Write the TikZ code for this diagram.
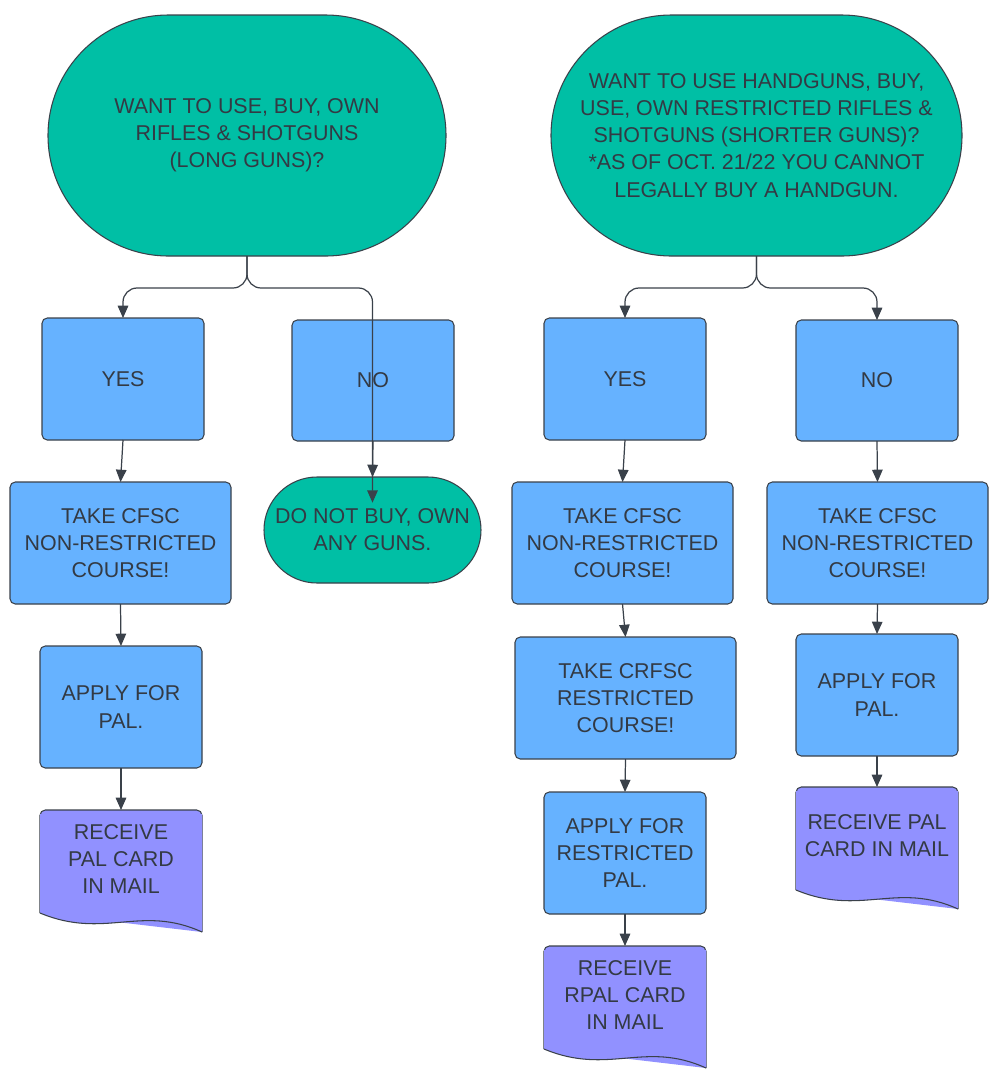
\documentclass[tikz,border=0pt]{standalone}
\usepackage{fontspec}
\setmainfont{Liberation Sans}
\usetikzlibrary{arrows.meta}
\definecolor{teal1}{HTML}{00BFA5}
\definecolor{blue1}{HTML}{66B2FF}
\definecolor{purp1}{HTML}{9191FF}
\definecolor{edge1}{HTML}{3A414A}
\definecolor{txt1}{HTML}{333A44}
\begin{document}
\begin{tikzpicture}[x=0.02cm,y=-0.02cm,
  txt/.style={text=txt1,font=\fontsize{12.2}{15.4}\selectfont,align=center},
  box/.style={draw=edge1,line width=0.6pt,fill=blue1,rounded corners=3pt},
  term/.style={draw=edge1,line width=0.6pt,fill=teal1},
  arr/.style={draw=edge1,line width=0.7pt,-{Triangle[length=7pt,width=6pt]},rounded corners=8pt}]
\useasboundingbox (0,0) rectangle (1000,1086);
% macros
\newcommand{\bx}[6]{\draw[box] (#1,#2) rectangle (#3,#4);
  \node[txt] (#5) at ({(#1+#3)/2},{(#2+#4)/2}) {#6};
  \coordinate (#5t) at ({(#1+#3)/2},#2); \coordinate (#5b) at ({(#1+#3)/2},#4);}
\newcommand{\term}[6]{\pgfmathsetmacro{\rr}{(#4-#2)/2}
  \draw[term,rounded corners=\rr*0.02cm] (#1,#2) rectangle (#3,#4);
  \node[txt] (#5) at ({(#1+#3)/2},{(#2+#4)/2}) {#6};
  \coordinate (#5t) at ({(#1+#3)/2},#2); \coordinate (#5b) at ({(#1+#3)/2},#4);}
\newcommand{\doc}[6]{\draw[draw=edge1,line width=0.6pt,fill=purp1,rounded corners=3pt]
  (#1,{#4-19}) -- (#1,#2) -- (#3,#2) -- (#3,#4);
  \fill[purp1] (#1,{#4-19}) -- (#1,{#2+4}) -- (#3,{#2+4}) -- (#3,#4)
  .. controls ({#1+0.62*(#3-#1)},{#4-28}) and ({#1+0.4*(#3-#1)},{#4+8}) .. (#1,{#4-19});
  \draw[edge1,line width=0.6pt] (#3,#4)
  .. controls ({#1+0.62*(#3-#1)},{#4-28}) and ({#1+0.4*(#3-#1)},{#4+8}) .. (#1,{#4-19});
  \node[txt] (#5) at ({(#1+#3)/2},{#2+(#4-#2)*0.4}) {#6};
  \coordinate (#5t) at ({(#1+#3)/2},#2);}
% left column
\term{48}{15}{446}{256}{lq}{WANT TO USE, BUY, OWN\\RIFLES \& SHOTGUNS\\(LONG GUNS)?}
\bx{42}{318}{204}{440}{ly}{YES}
\bx{292}{320}{454}{441}{ln}{NO}
\bx{10}{482}{231}{604}{lt}{TAKE CFSC\\NON-RESTRICTED\\COURSE!}
\term{264}{477}{481}{583}{lnt}{DO NOT BUY, OWN\\ANY GUNS.}
\bx{40}{646}{202}{768}{la}{APPLY FOR\\PAL.}
\doc{40}{810}{202}{932}{lr}{RECEIVE\\PAL CARD\\IN MAIL}
% right column
\term{551}{15}{962}{256}{rq}{WANT TO USE HANDGUNS, BUY,\\USE, OWN RESTRICTED RIFLES \&\\SHOTGUNS (SHORTER GUNS)?\\*AS OF OCT. 21/22 YOU CANNOT\\LEGALLY BUY A HANDGUN.}
\bx{544}{318}{706}{440}{ry}{YES}
\bx{796}{320}{958}{441}{rn}{NO}
\bx{512}{482}{733}{604}{rt}{TAKE CFSC\\NON-RESTRICTED\\COURSE!}
\bx{767}{482}{988}{604}{rt2}{TAKE CFSC\\NON-RESTRICTED\\COURSE!}
\bx{515}{637}{736}{759}{rc}{TAKE CRFSC\\RESTRICTED\\COURSE!}
\bx{544}{792}{706}{914}{ra}{APPLY FOR\\RESTRICTED\\PAL.}
\doc{544}{946}{706}{1068}{rr}{RECEIVE\\RPAL CARD\\IN MAIL}
\bx{796}{634}{958}{756}{ra2}{APPLY FOR\\PAL.}
\doc{796}{787}{958}{909}{rr2}{RECEIVE PAL\\CARD IN MAIL}
% connectors
\draw[arr] (lqb) -- ++(0,32) -| (lyt);
\draw[arr] (lqb) -- ++(0,32) -| (lnt);
\draw[arr] (rqb) -- ++(0,32) -| (ryt);
\draw[arr] (rqb) -- ++(0,32) -| (rnt);
\draw[arr] (lyb) -- (ltt);
\draw[arr] (lnb) -- (lntt);
\draw[arr] (ltb) -- (lat);
\draw[arr] (lab) -- (lrt);
\draw[arr] (ryb) -- (rtt);
\draw[arr] (rtb) -- (rct);
\draw[arr] (rcb) -- (rat);
\draw[arr] (rab) -- (rrt);
\draw[arr] (rnb) -- (rt2t);
\draw[arr] (rt2b) -- (ra2t);
\draw[arr] (ra2b) -- (rr2t);
\end{tikzpicture}
\end{document}
